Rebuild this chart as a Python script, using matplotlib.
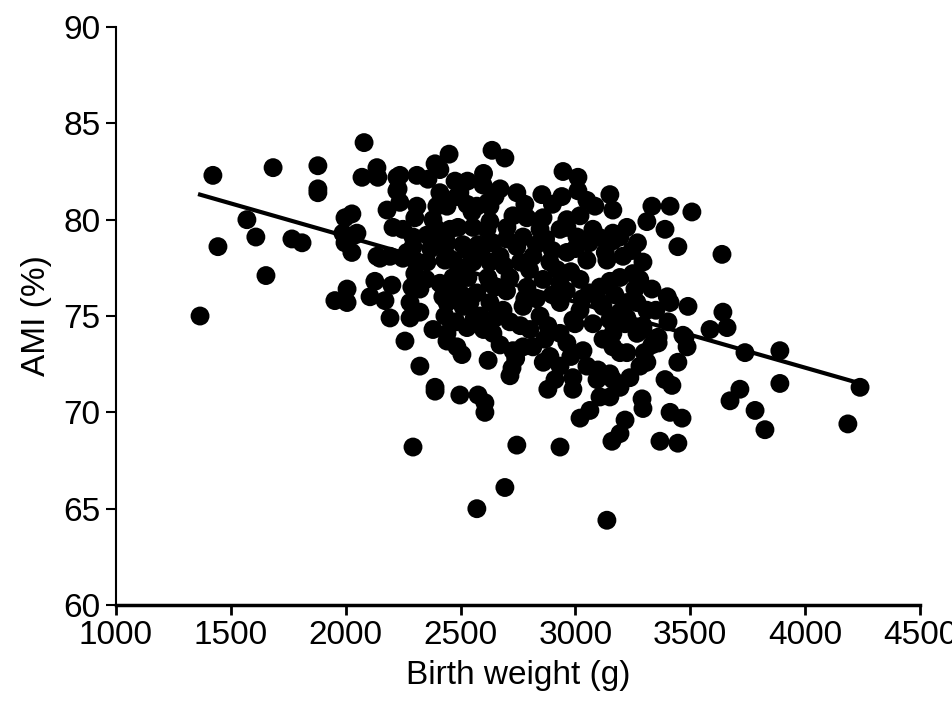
import matplotlib
matplotlib.use("Agg")
import matplotlib.pyplot as plt

plt.rcParams["font.family"] = ["Liberation Sans", "DejaVu Sans"]

# birth weight (g) / AMI (%), in three weight bands
bw_low = [1366, 1422, 1444, 1570, 1609, 1653, 1684, 1766, 1810, 1879, 1879, 1879,
          2080, 2071, 2136, 2140, 2223, 2223, 1997, 2027, 1988, 2040, 1997, 2027,
          2049, 2136, 2193, 2180, 2206, 2127, 2201, 2006, 1953, 2006, 2106, 2171,
          2193, 2258, 2236, 2228, 2236, 2249, 2149, 2249, 2293, 2267, 2288, 2280,
          2280, 2293, 2293, 2301, 2301, 2301]
ami_low = [75.0, 82.3, 78.6, 80.0, 79.1, 77.1, 82.7, 79.0, 78.8, 82.8, 81.6, 81.4,
           84.0, 82.2, 82.7, 82.2, 82.2, 81.5, 80.1, 80.3, 79.3, 79.2, 78.8, 78.3,
           79.3, 78.1, 78.1, 80.5, 79.6, 76.8, 76.6, 76.4, 75.8, 75.7, 76.0, 75.8,
           74.9, 73.7, 82.3, 81.6, 80.9, 79.5, 78.0, 78.0, 78.6, 78.3, 76.5, 75.7,
           74.9, 79.1, 68.2, 80.1, 77.9, 77.2]

bw_mid = [2310, 2358, 2389, 2450, 2310, 2410, 2397, 2354, 2410, 2432, 2323, 2423,
          2432, 2380, 2441, 2323, 2389, 2389, 2637, 2693, 2476, 2598, 2497, 2571,
          2628, 2441, 2489, 2554, 2615, 2397, 2354, 2441, 2510, 2576, 2641, 2467,
          2554, 2628, 2467, 2532, 2619, 2441, 2497, 2571, 2650, 2441, 2541, 2628,
          2672, 2745, 2854, 2859, 2789, 2728, 2619, 2484, 2528, 2380, 2454, 2550,
          2628, 2702, 2772, 2846, 2441, 2528, 2598, 2672, 2745, 2815, 2889, 2323,
          2410, 2484, 2628, 2715, 2789, 2859, 2510, 2585, 2685, 2772, 2846, 2497,
          2576, 2606, 2606, 2745, 2693, 2571, 2715, 2724, 2880, 2889, 2441, 2484,
          2506, 2772, 2815, 2728, 2528, 2641, 2715, 2802, 2880, 2867, 2672,
          2350, 2370, 2520, 2690, 2700, 2760, 2800, 2830, 2870, 2520, 2650, 2600,
          2560, 2480, 2760, 2830, 2780, 2700, 2560, 2650, 2780, 2600, 2410, 2530,
          2740, 2620, 2860]
ami_mid = [82.3, 82.1, 82.9, 83.4, 80.7, 81.4, 80.7, 77.8, 78.8, 77.9, 75.2, 76.0,
           75.0, 74.3, 73.7, 72.4, 71.3, 71.1, 83.6, 83.2, 82.0, 81.8, 81.4, 80.7,
           80.7, 80.7, 79.6, 79.6, 79.5, 79.5, 79.2, 78.8, 78.7, 78.7, 78.8, 77.9,
           77.8, 77.8, 77.0, 77.0, 77.0, 76.5, 76.2, 76.2, 76.5, 75.7, 75.7, 75.7,
           81.6, 81.4, 81.3, 80.1, 80.1, 80.2, 80.9, 81.2, 80.8, 80.0, 79.5, 80.4,
           79.9, 79.6, 79.1, 79.5, 78.1, 78.4, 78.6, 78.1, 78.6, 78.1, 77.8, 76.4,
           76.7, 76.9, 76.7, 77.0, 76.5, 76.9, 75.5, 75.0, 75.3, 75.5, 75.0, 70.9,
           70.9, 70.5, 70.0, 68.3, 66.1, 65.0, 71.9, 72.3, 71.2, 72.9, 74.1, 73.4,
           73.0, 73.4, 73.4, 73.2, 74.4, 74.1, 74.7, 74.3, 74.5, 73.8, 73.5,
           76.9, 78.5, 77.5, 77.6, 76.3, 77.8, 77.4, 78.7, 79.0, 76.0, 74.9, 74.3,
           74.9, 74.7, 74.5, 75.9, 75.9, 79.0, 78.1, 81.2, 80.8, 82.4, 82.6, 82.0,
           72.8, 72.7, 72.6]

bw_high = [2946, 3011, 3011, 2941, 3150, 3163, 3085, 3020, 2963, 2933, 3007, 3076,
           3163, 3224, 2963, 3050, 3137, 3207, 2933, 3020, 3107, 3194, 2933, 3020,
           3107, 3194, 3333, 3311, 3194, 3294, 3333, 2963, 3412, 3507, 3390, 3446,
           3638, 3246, 3163, 3412, 3490, 3268, 3642, 3660, 3586, 3403, 3468, 3486,
           3360, 3294, 3216, 3738, 3890, 3446, 3311, 3390, 3420, 3890, 3716, 3673,
           3782, 4239, 4186, 3825, 3290, 3294, 3412, 3464, 3216, 3194, 3159, 3368,
           3446, 3150, 3163, 2933, 3137, 2911, 2933, 2989, 3020, 3063, 3033, 3050,
           3094, 3150, 3194, 3107, 2933, 2989, 3163, 3194, 3360, 2989, 3098, 3237,
           3281, 3333, 3268, 3224, 3163, 3120, 2963, 2998, 3076, 3150, 3224, 3294,
           3311, 3224, 3120, 3477, 3259, 3172,
           2900, 2920, 2980, 3000, 3060, 3100, 3130, 3060, 3150, 3250, 3280, 3270,
           2900, 2960, 2980, 3030, 2900, 3050, 3350, 3400, 3300]
ami_high = [82.5, 82.2, 81.5, 81.2, 81.3, 80.5, 80.7, 80.2, 80.0, 79.5, 79.1, 79.5,
            79.3, 79.6, 78.3, 77.9, 77.9, 78.1, 76.7, 76.9, 76.5, 77.0, 75.7, 75.3,
            75.7, 75.2, 80.7, 79.9, 79.1, 77.8, 76.4, 79.6, 80.7, 80.4, 79.5, 78.6,
            78.2, 78.4, 78.9, 75.7, 75.5, 75.7, 75.2, 74.4, 74.3, 74.7, 74.0, 73.4,
            73.6, 74.3, 74.6, 73.1, 73.2, 72.6, 72.6, 71.7, 71.4, 71.5, 71.2, 70.6,
            70.1, 71.3, 69.4, 69.1, 70.7, 70.2, 70.0, 69.7, 69.6, 68.9, 68.5, 68.5,
            68.4, 70.8, 71.7, 68.2, 64.4, 71.7, 72.4, 71.2, 69.7, 70.1, 73.2, 72.4,
            71.7, 72.0, 71.3, 70.8, 74.1, 74.8, 74.1, 73.1, 73.9, 71.8, 72.2, 71.8,
            72.4, 73.5, 74.1, 73.1, 73.4, 73.8, 73.6, 74.6, 74.6, 74.8, 74.9, 74.5,
            75.3, 75.7, 75.5, 73.9, 76.4, 76.1,
            78.4, 77.4, 77.3, 78.5, 78.8, 79.1, 78.3, 76.2, 76.8, 77.2, 76.9, 78.8,
            76.1, 76.3, 72.9, 75.9, 80.8, 81.0, 75.3, 76.0, 73.1]

# regression line end points as drawn
fit_bw = [1366, 4240]
fit_ami = [81.3, 71.5]

fig = plt.figure(figsize=(9.52, 7.22), dpi=100)
ax = fig.add_axes([0.1218, 0.162, 0.8446, 0.8006])

for bw, ami in [(bw_low, ami_low), (bw_mid, ami_mid), (bw_high, ami_high)]:
    ax.scatter(bw, ami, s=185, c="black", edgecolors="none", zorder=2)
ax.plot(fit_bw, fit_ami, color="black", lw=3, zorder=3)

ax.set_xlim(1000, 4500)
ax.set_ylim(60, 90)
ax.set_xticks(range(1000, 4501, 500))
ax.set_yticks(range(60, 91, 5))

for side in ["top", "right"]:
    ax.spines[side].set_visible(False)
ax.spines["left"].set_linewidth(1.5)
ax.spines["bottom"].set_linewidth(2.5)
ax.tick_params(axis="both", direction="out", length=7, width=1.5, labelsize=24, pad=4)
ax.tick_params(axis="x", width=2)

ax.set_xlabel("Birth weight (g)", fontsize=24, labelpad=6)
ax.set_ylabel("AMI (%)", fontsize=24, labelpad=8)

fig.savefig("out.png", dpi=100)
